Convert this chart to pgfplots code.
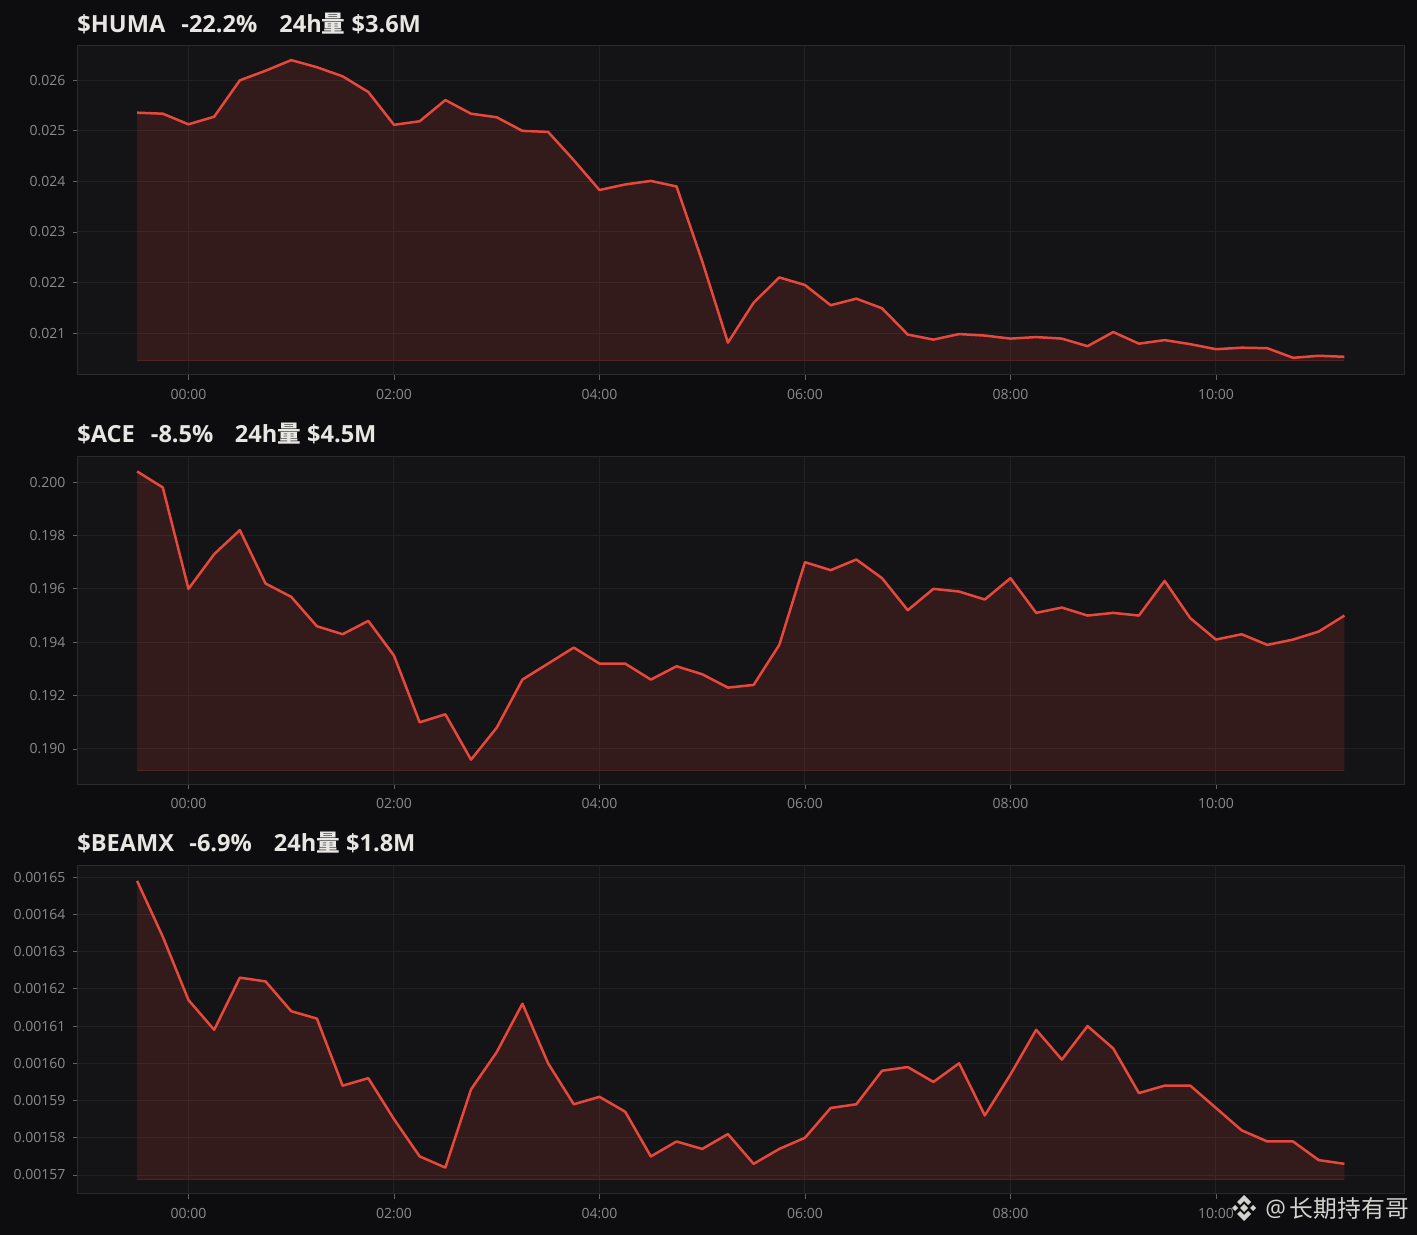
\documentclass[border=0pt]{standalone}
\usepackage{pgfplots}
\usepackage{pgfplotstable}
\usepackage{fontspec}
\pgfplotsset{compat=1.18}
\setmainfont{Open Sans}
\newfontfamily\cjk{Noto Sans CJK SC}
\definecolor{bgc}{HTML}{0D0D0F}
\definecolor{panelc}{HTML}{141416}
\definecolor{gridc}{HTML}{212124}
\definecolor{framec}{HTML}{2A2A2D}
\definecolor{tickc}{HTML}{8A8A8A}
\definecolor{linec}{HTML}{E8483C}
\definecolor{titlec}{HTML}{E8E6E3}
\definecolor{wmc}{HTML}{D2D2CE}
\pgfplotstableread{
t y
-0.50 0.02536
-0.25 0.02534
0.00 0.02513
0.25 0.02528
0.50 0.02600
0.75 0.02619
1.00 0.02640
1.25 0.02626
1.50 0.02608
1.75 0.02577
2.00 0.02512
2.25 0.02519
2.50 0.02561
2.75 0.02534
3.00 0.02527
3.25 0.02500
3.50 0.02498
3.75 0.02442
4.00 0.02383
4.25 0.02394
4.50 0.02401
4.75 0.02390
5.00 0.02242
5.25 0.02081
5.50 0.02160
5.75 0.02210
6.00 0.02195
6.25 0.02155
6.50 0.02168
6.75 0.02149
7.00 0.02097
7.25 0.02087
7.50 0.02098
7.75 0.02095
8.00 0.02089
8.25 0.02092
8.50 0.02089
8.75 0.02074
9.00 0.02102
9.25 0.02079
9.50 0.02086
9.75 0.02078
10.00 0.02068
10.25 0.02071
10.50 0.02070
10.75 0.02051
11.00 0.02055
11.25 0.02053
}\huma
\pgfplotstableread{
t y
-0.50 0.2004
-0.25 0.1998
0.00 0.1960
0.25 0.1973
0.50 0.1982
0.75 0.1962
1.00 0.1957
1.25 0.1946
1.50 0.1943
1.75 0.1948
2.00 0.1935
2.25 0.1910
2.50 0.1913
2.75 0.1896
3.00 0.1908
3.25 0.1926
3.50 0.1932
3.75 0.1938
4.00 0.1932
4.25 0.1932
4.50 0.1926
4.75 0.1931
5.00 0.1928
5.25 0.1923
5.50 0.1924
5.75 0.1939
6.00 0.1970
6.25 0.1967
6.50 0.1971
6.75 0.1964
7.00 0.1952
7.25 0.1960
7.50 0.1959
7.75 0.1956
8.00 0.1964
8.25 0.1951
8.50 0.1953
8.75 0.1950
9.00 0.1951
9.25 0.1950
9.50 0.1963
9.75 0.1949
10.00 0.1941
10.25 0.1943
10.50 0.1939
10.75 0.1941
11.00 0.1944
11.25 0.1950
}\ace
\pgfplotstableread{
t y
-0.50 0.001649
-0.25 0.001634
0.00 0.001617
0.25 0.001609
0.50 0.001623
0.75 0.001622
1.00 0.001614
1.25 0.001612
1.50 0.001594
1.75 0.001596
2.00 0.001585
2.25 0.001575
2.50 0.001572
2.75 0.001593
3.00 0.001603
3.25 0.001616
3.50 0.001600
3.75 0.001589
4.00 0.001591
4.25 0.001587
4.50 0.001575
4.75 0.001579
5.00 0.001577
5.25 0.001581
5.50 0.001573
5.75 0.001577
6.00 0.001580
6.25 0.001588
6.50 0.001589
6.75 0.001598
7.00 0.001599
7.25 0.001595
7.50 0.001600
7.75 0.001586
8.00 0.001597
8.25 0.001609
8.50 0.001601
8.75 0.001610
9.00 0.001604
9.25 0.001592
9.50 0.001594
9.75 0.001594
10.00 0.001588
10.25 0.001582
10.50 0.001579
10.75 0.001579
11.00 0.001574
11.25 0.001573
}\beamx
\pgfplotsset{panel/.style={
  anchor=south west, scale only axis, width=663.25pt,
  xmin=-1.08, xmax=11.83,
  xtick={0,2,4,6,8,10},
  xticklabels={00:00,02:00,04:00,06:00,08:00,10:00},
  axis background/.style={fill=panelc},
  axis line style={draw=framec, line width=0.5pt},
  grid=major, major grid style={draw=gridc, line width=0.5pt},
  tick align=outside, major tick length=2.5pt,
  tick style={draw=tickc!70!black, line width=0.4pt},
  xtick pos=bottom, ytick pos=left,
  tick label style={font=\fontsize{7}{8}\selectfont, text=tickc},
  /pgf/number format/assume math mode=true,
  scaled y ticks=false, scaled x ticks=false,
  xticklabel style={yshift=-1pt},
  yticklabel style={xshift=0pt},
}}
\newcommand{\series}[2]{%
  \addplot[fill=linec, fill opacity=0.15, draw=linec!25!panelc, draw opacity=0, line width=0pt, forget plot] table[x=t,y=y] {#1} -- (axis cs:11.25,#2) -- (axis cs:-0.5,#2) -- cycle;
  \addplot[draw=linec!28!panelc, line width=0.5pt, forget plot] coordinates {(-0.5,#2) (11.25,#2)};
  \addplot[draw=linec, line width=1.25pt, line join=round, forget plot] table[x=t,y=y] {#1};
}
\begin{document}
\begin{tikzpicture}
\fill[bgc] (0,0) rectangle (708.5pt,617.5pt);
\begin{axis}[panel, at={(38.75pt,430pt)}, height=164.5pt,
  ymin=0.020170, ymax=0.026680,
  ytick={0.021,0.022,0.023,0.024,0.025,0.026},
  yticklabel style={/pgf/number format/fixed,/pgf/number format/fixed zerofill,/pgf/number format/precision=3}]
\series{\huma}{0.020465}
\end{axis}
\begin{axis}[panel, at={(38.75pt,225.25pt)}, height=164pt,
  ymin=0.18867, ymax=0.20096,
  ytick={0.190,0.192,0.194,0.196,0.198,0.200},
  yticklabel style={/pgf/number format/fixed,/pgf/number format/fixed zerofill,/pgf/number format/precision=3}]
\series{\ace}{0.18919}
\end{axis}
\begin{axis}[panel, at={(38.75pt,20.5pt)}, height=164pt,
  ymin=0.0015649, ymax=0.0016530,
  ytick={0.00157,0.00158,0.00159,0.00160,0.00161,0.00162,0.00163,0.00164,0.00165},
  yticklabel style={/pgf/number format/fixed,/pgf/number format/fixed zerofill,/pgf/number format/precision=5}]
\series{\beamx}{0.0015687}
\end{axis}
\begin{scope}[shift={(0pt,617.5pt)},x=0.5pt,y=-0.5pt]
\tikzset{ttl/.style={anchor=base west,inner sep=0pt,text=titlec,font=\fontsize{11.8}{14}\selectfont\bfseries}}
\node[ttl] at (77,33) {\$HUMA};
\node[ttl] at (181,33) {-22.2\%};
\node[ttl] at (279,33) {24h{\cjk 量} \$3.6M};
\node[ttl] at (77,442.5) {\$ACE};
\node[ttl] at (150.5,442.5) {-8.5\%};
\node[ttl] at (234.5,442.5) {24h{\cjk 量} \$4.5M};
\node[ttl] at (77,852) {\$BEAMX};
\node[ttl] at (189,852) {-6.9\%};
\node[ttl] at (273.5,852) {24h{\cjk 量} \$1.8M};
% watermark
\fill[wmc] (1244,1195) -- (1251,1202) -- (1248,1205) -- (1244,1201) -- (1240,1205) -- (1237,1202) -- cycle;
\fill[wmc] (1244,1221) -- (1251,1214) -- (1248,1211) -- (1244,1215) -- (1240,1211) -- (1237,1214) -- cycle;
\fill[wmc] (1244,1204) -- (1248,1208) -- (1244,1212) -- (1240,1208) -- cycle;
\fill[wmc] (1235,1205) -- (1238,1208) -- (1235,1211) -- (1232,1208) -- cycle;
\fill[wmc] (1253,1205) -- (1256,1208) -- (1253,1211) -- (1250,1208) -- cycle;
\node[anchor=base west,inner sep=0pt,text=wmc,font=\fontsize{11.5}{14}\selectfont] at (1265,1216.5) {@};
\node[anchor=base west,inner sep=0pt,text=wmc,font=\fontsize{11.9}{14}\selectfont\cjk] at (1289.5,1217.5) {长期持有哥};
\end{scope}
\end{tikzpicture}
\end{document}
